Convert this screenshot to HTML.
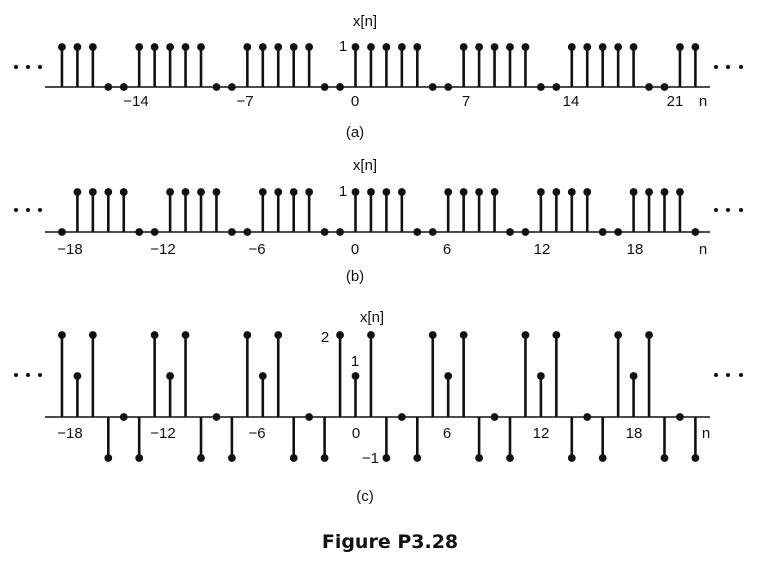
<!DOCTYPE html>
<html><head><meta charset="utf-8"><style>
html,body{margin:0;padding:0;background:#fff;}
svg{display:block;}
text{font-family:"Liberation Sans",sans-serif;font-size:15px;fill:#111;}
</style></head><body>
<svg id="s" width="782" height="561" viewBox="0 0 782 561" xmlns="http://www.w3.org/2000/svg">
<g id="g" stroke="#111" fill="#111"></g>
<g fill="#111">
<circle cx="16" cy="67" r="2"/><circle cx="28" cy="67" r="2"/><circle cx="40" cy="67" r="2"/>
<circle cx="716" cy="67" r="2"/><circle cx="728" cy="67" r="2"/><circle cx="741" cy="67" r="2"/>
<circle cx="16" cy="210" r="2"/><circle cx="28" cy="210" r="2"/><circle cx="40" cy="210" r="2"/>
<circle cx="716" cy="210" r="2"/><circle cx="728" cy="210" r="2"/><circle cx="741" cy="210" r="2"/>
<circle cx="16" cy="375" r="2"/><circle cx="28" cy="375" r="2"/><circle cx="40" cy="375" r="2"/>
<circle cx="716" cy="375" r="2"/><circle cx="728" cy="375" r="2"/><circle cx="741" cy="375" r="2"/>
</g>
<text x="365" y="26" text-anchor="middle">x[n]</text>
<text x="343" y="51" text-anchor="middle" font-size="14">1</text>
<text x="136" y="106" text-anchor="middle">−14</text>
<text x="245" y="106" text-anchor="middle">−7</text>
<text x="355" y="106" text-anchor="middle">0</text>
<text x="466" y="106" text-anchor="middle">7</text>
<text x="571" y="106" text-anchor="middle">14</text>
<text x="675" y="106" text-anchor="middle">21</text>
<text x="703" y="106" text-anchor="middle">n</text>
<text x="355" y="137" text-anchor="middle">(a)</text>
<text x="365" y="170" text-anchor="middle">x[n]</text>
<text x="343" y="196" text-anchor="middle" font-size="14">1</text>
<text x="70" y="254" text-anchor="middle">−18</text>
<text x="163" y="254" text-anchor="middle">−12</text>
<text x="257" y="254" text-anchor="middle">−6</text>
<text x="355" y="254" text-anchor="middle">0</text>
<text x="447" y="254" text-anchor="middle">6</text>
<text x="542" y="254" text-anchor="middle">12</text>
<text x="635" y="254" text-anchor="middle">18</text>
<text x="703" y="254" text-anchor="middle">n</text>
<text x="355" y="281" text-anchor="middle">(b)</text>
<text x="372" y="322" text-anchor="middle">x[n]</text>
<text x="325" y="342" text-anchor="middle">2</text>
<text x="355" y="366" text-anchor="middle" font-size="14">1</text>
<text x="70" y="438" text-anchor="middle">−18</text>
<text x="163" y="438" text-anchor="middle">−12</text>
<text x="257" y="438" text-anchor="middle">−6</text>
<text x="356" y="438" text-anchor="middle">0</text>
<text x="447" y="438" text-anchor="middle">6</text>
<text x="541" y="438" text-anchor="middle">12</text>
<text x="634" y="438" text-anchor="middle">18</text>
<text x="706" y="438" text-anchor="middle">n</text>
<text x="379" y="463" text-anchor="end">−1</text>
<text x="365" y="501" text-anchor="middle">(c)</text>
<text x="390" y="548" text-anchor="middle" style="font-size:19px;font-weight:bold;font-family:'DejaVu Sans','Liberation Sans',sans-serif;">Figure P3.28</text>
</svg>
<script>
(function(){
var g=document.getElementById('g'),NS='http://www.w3.org/2000/svg';
function el(t,a){var e=document.createElementNS(NS,t);for(var k in a)e.setAttribute(k,a[k]);g.appendChild(e);}
function mod(a,m){return ((a%m)+m)%m;}
var x0=355.5,d=15.45;
var plots=[
 {y:87,u:40,f:function(n){return mod(n,7)<5?1:0;}},
 {y:232,u:40,f:function(n){return mod(n,6)<4?1:0;}},
 {y:417,u:41,f:function(n){var m=mod(n,6);return m==0?1:(m==1||m==5)?2:(m==2||m==4)?-1:0;}}
];
plots.forEach(function(p){
 el('line',{x1:45,y1:p.y,x2:710,y2:p.y,'stroke-width':1.6});
 for(var n=-19;n<=22;n++){
  var x=x0+n*d,v=p.f(n),yy=p.y-v*p.u;
  if(v!=0)el('line',{x1:x,y1:p.y,x2:x,y2:yy,'stroke-width':2.6});
  el('circle',{cx:x,cy:yy,r:3.9,stroke:'none'});
 }
});
})();
</script>
</body></html>
